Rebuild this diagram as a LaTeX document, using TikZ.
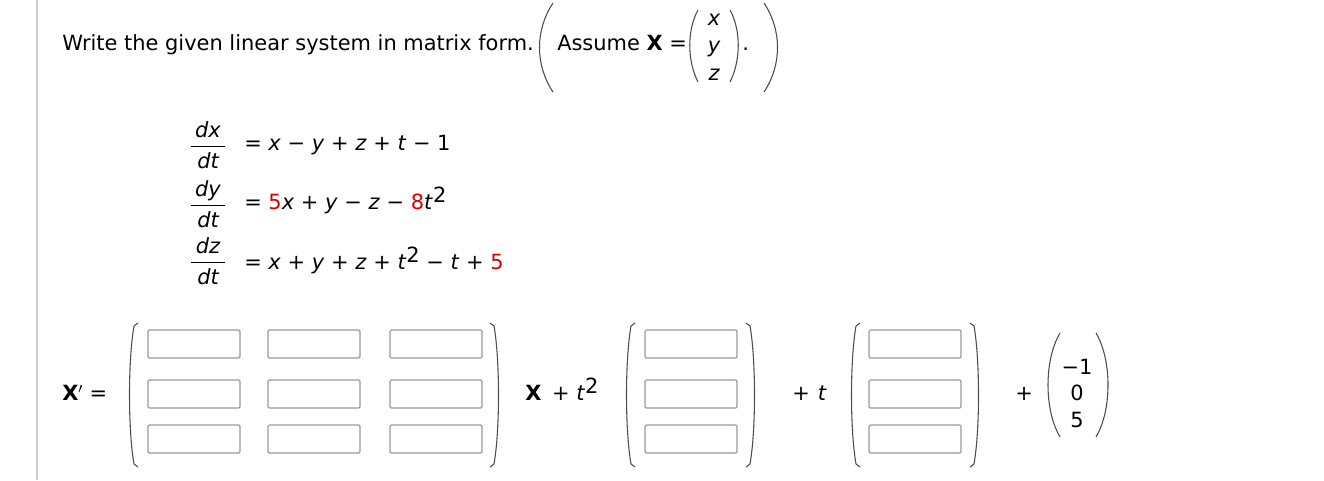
\documentclass[tikz,border=0pt]{standalone}
\usepackage{fontspec}
\setmainfont{DejaVu Sans}
\begin{document}
\begin{tikzpicture}[x=0.75pt,y=-0.75pt,
  txt/.style={inner sep=0pt,anchor=base west,font=\fontsize{15.7}{18}\selectfont},
  it/.style={txt,font=\fontsize{15.7}{18}\selectfont\itshape},
  box/.style={draw=gray!80,line width=0.9pt,rounded corners=1pt,minimum width=69pt,minimum height=21pt,inner sep=0pt},
  brk/.style={draw=black!70,line width=0.8pt}]
\useasboundingbox (0,0) rectangle (1324,480);
\draw[gray!40,line width=1.2pt] (37,0) -- (37,480);
\node[txt] (title) at (62,50) {Write the given linear system in matrix form.};
\draw[brk] (553,3) .. controls (535,30) and (535,65) .. (553,92);
\draw[brk] (764,3) .. controls (782,30) and (782,65) .. (764,92);
\node[txt] (assume) at (557,50) {Assume \textbf{X} =};
\draw[brk] (698,10) .. controls (687,30) and (687,60) .. (698,82);
\draw[brk] (730,10) .. controls (741,30) and (741,60) .. (730,82);
\node[it,anchor=base] (vx) at (714,25) {x};
\node[it,anchor=base] (vy) at (714,52) {y};
\node[it,anchor=base] (vz) at (714,80) {z};
\node[txt] (dot) at (742,50) {.};
\foreach \n/\y/\v in {1/146/x,2/205/y,3/262/z}{
  \node[it,anchor=base] (num\n) at (208,\y-9) {d\v};
  \node[it,anchor=base] (den\n) at (208,\y+22) {dt};
  \draw (191,\y) -- (225,\y);
}
\node[txt] (e1) at (244,150) {= \textit{x} − \textit{y} + \textit{z} + \textit{t} − 1};
\node[txt] (e2) at (244,209) {= \textcolor{red!85!black}{5}\textit{x} + \textit{y} − \textit{z} − \textcolor{red!85!black}{8}\textit{t}\raisebox{0.6ex}{2}};
\node[txt] (e3) at (244,269) {= \textit{x} + \textit{y} + \textit{z} + \textit{t}\raisebox{0.6ex}{2} − \textit{t} + \textcolor{red!85!black}{5}};
\node[txt] (xp) at (62,400) {\textbf{X}$'$ =};
\draw[brk] (138,323) -- (134,326) .. controls (128,360) and (128,430) .. (134,464) -- (138,467);
\draw[brk] (490,323) -- (494,326) .. controls (500,360) and (500,430) .. (494,464) -- (490,467);
\foreach \r/\yy in {1/344,2/394,3/439}{
  \foreach \c/\xx in {1/194,2/314,3/436}{
    \node[box] (a\r\c) at (\xx,\yy) {};
  }
  \node[box] (b\r) at (691,\yy) {};
  \node[box] (c\r) at (915,\yy) {};
}
\node[txt] (X2) at (525,400) {\textbf{X}\hspace{8pt}+\hspace{5pt}\textit{t}\raisebox{0.6ex}{2}};
\draw[brk] (635,323) -- (631,326) .. controls (625,360) and (625,430) .. (631,464) -- (635,467);
\draw[brk] (746,323) -- (750,326) .. controls (756,360) and (756,430) .. (750,464) -- (746,467);
\node[txt] (pt) at (792,400) {+\hspace{6pt}\textit{t}};
\draw[brk] (860,323) -- (856,326) .. controls (850,360) and (850,430) .. (856,464) -- (860,467);
\draw[brk] (970,323) -- (974,326) .. controls (980,360) and (980,430) .. (974,464) -- (970,467);
\node[txt] (pl) at (1015,400) {+};
\draw[brk] (1060,333) .. controls (1044,360) and (1044,410) .. (1060,437);
\draw[brk] (1096,333) .. controls (1112,360) and (1112,410) .. (1096,437);
\node[txt,anchor=base] (k1) at (1077,374) {−1};
\node[txt,anchor=base] (k2) at (1077,400) {0};
\node[txt,anchor=base] (k3) at (1077,427) {5};
\end{tikzpicture}
\end{document}
